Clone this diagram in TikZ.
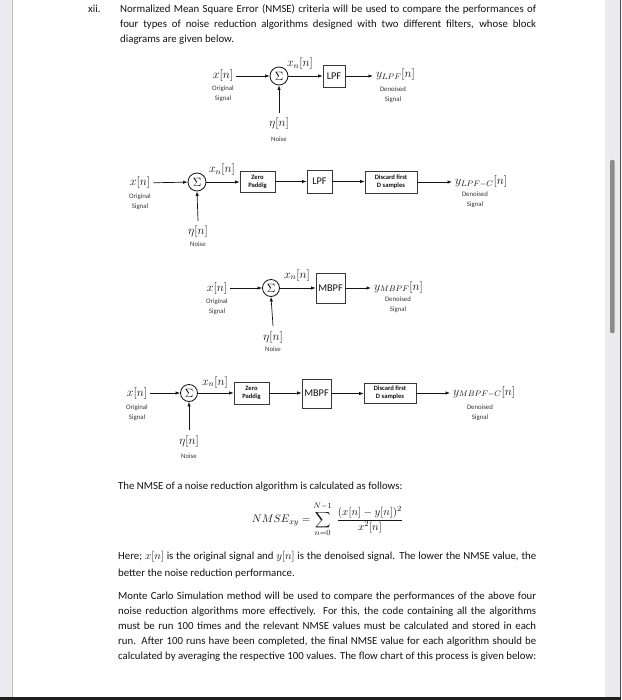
\documentclass[tikz,border=0pt]{standalone}
\usepackage{amsmath}
\usepackage[no-math]{fontspec}
\setmainfont{Carlito}
\usetikzlibrary{arrows.meta}
\definecolor{ink}{HTML}{141414}
\definecolor{sidegray}{HTML}{ECECF0}
\definecolor{thumbgray}{HTML}{8C8C8C}
\newcommand\lblfont{\fontsize{6.8}{10}\selectfont}
\newcommand\boldlblfont{\fontsize{6.6}{8}\selectfont\bfseries}
\newcommand\boxfont{\fontsize{10.3}{11}\selectfont}
\newcommand\mathsz{\fontsize{12}{14}\selectfont}
\newcommand\parafont{\fontsize{10.8}{15}\selectfont}
\newcommand\jl[1]{\makebox[416pt][s]{#1}}
\newcommand\jm[1]{\makebox[418pt][s]{#1}}
\begin{document}
\begin{tikzpicture}[x=1pt,y=-1pt,
  sig/.style={-{Latex[length=4.5pt,width=3.4pt]}, line width=0.7pt, draw=ink},
  blk/.style={draw=ink!85, line width=0.8pt, inner sep=0pt, align=center, text=ink},
  sumnode/.style={circle, draw=ink, line width=0.8pt, minimum size=17pt, inner sep=0pt, font=\fontsize{13}{13}\selectfont},
  mlabel/.style={inner xsep=3pt, inner ysep=1pt, text=ink, font=\mathsz},
  sublabel/.style={inner sep=0pt, align=center, text=ink!85, font=\lblfont},
  para/.style={inner sep=0pt, align=left, text=ink, font=\parafont, anchor=north west}]
\useasboundingbox (0,0) rectangle (621,700);
% screen background
\fill[sidegray] (0,0) rectangle (621,700);
\fill[white] (12,0) rectangle (605,697);
\draw[black!25, line width=0.6pt] (12,0) -- (12,697);
\fill[thumbgray, rounded corners=1pt] (610,160) rectangle (614.5,333);
\fill[black!70] (619.5,0) rectangle (621,700);
\fill[black!88] (0,697) rectangle (621,700);

% ---------- heading text ----------
\node[para] (num) at (88,1.5) {\strut xii.};
\node[para] (p1) at (120,1.5) {\strut\jl{Normalized Mean Square Error (NMSE) criteria will be used to compare the performances of}\\
\jl{four types of noise reduction algorithms designed with two different filters, whose block}\\
diagrams are given below.};

% ---------- diagram 1 ----------
\node[mlabel] (x1) at (223,76) {$x[n]$};
\node[sublabel] (o1) at (223,94) {Original\\Signal};
\node[sumnode, minimum size=18pt] (s1) at (279,76) {$\Sigma$};
\node[mlabel] (xn1) at (300,64) {$x_n[n]$};
\node[blk, minimum width=22pt, minimum height=22pt, font=\boxfont] (f1) at (334,76) {LPF};
\node[mlabel, anchor=west] (y1) at (373,75) {$y_{LPF}[n]$};
\node[sublabel] (d1) at (393,95) {Denoised\\Signal};
\node[mlabel] (e1) at (279,124) {$\eta[n]$};
\node[sublabel] (n1) at (279,139) {Noise};
\draw[sig] (x1) -- (s1);
\draw[sig] (s1) -- (f1);
\draw[sig] (f1.east) -- (f1.east -| y1.west);
\draw[sig] ([yshift=4pt]e1.north) -- (s1.south);

% ---------- diagram 2 ----------
\node[mlabel] (x2) at (140,183) {$x[n]$};
\node[sublabel] (o2) at (140,201.5) {Original\\Signal};
\node[sumnode, minimum size=18pt] (s2) at (197,182) {$\Sigma$};
\node[mlabel] (xn2) at (222,170) {$x_n[n]$};
\node[blk, minimum width=35pt, minimum height=21pt, font=\boldlblfont] (z2) at (257.5,181.5) {Zero\\Paddig};
\node[blk, minimum width=25pt, minimum height=23pt, font=\boxfont] (f2) at (319.5,181.5) {LPF};
\node[blk, minimum width=52pt, minimum height=22pt, font=\boldlblfont] (c2) at (391,182) {Discard first\\D samples};
\node[mlabel, anchor=west] (y2) at (452,182) {$y_{LPF-C}[n]$};
\node[sublabel] (d2) at (475,199.5) {Denoised\\Signal};
\node[mlabel] (e2) at (198,232) {$\eta[n]$};
\node[sublabel] (n2) at (198,244) {Noise};
\draw[sig] (x2) -- (s2);
\draw[sig] (s2) -- (s2 -| z2.west);
\draw[sig] (z2.east) -- (z2.east -| f2.west);
\draw[sig] (f2.east) -- (f2.east -| c2.west);
\draw[sig] (c2.east) -- (c2.east -| y2.west);
\draw[sig] ([yshift=4pt]e2.north) -- (s2.south);

% ---------- diagram 3 ----------
\node[mlabel] (x3) at (217,288) {$x[n]$};
\node[sublabel] (o3) at (217,307) {Original\\Signal};
\node[sumnode] (s3) at (271,288) {$\Sigma$};
\node[mlabel] (xn3) at (297,275) {$x_n[n]$};
\node[blk, minimum width=29pt, minimum height=30pt, font=\boxfont] (f3) at (330.5,288) {MBPF};
\node[mlabel, anchor=west] (y3) at (371,287) {$y_{MBPF}[n]$};
\node[sublabel] (d3) at (398,305) {Denoised\\Signal};
\node[mlabel] (e3) at (273,337) {$\eta[n]$};
\node[sublabel] (n3) at (273,349) {Noise};
\draw[sig] (x3) -- (s3);
\draw[sig] (s3) -- (f3);
\draw[sig] (f3.east) -- (f3.east -| y3.west);
\draw[sig] ([yshift=4pt]e3.north) -- (s3.south);

% ---------- diagram 4 ----------
\node[mlabel] (x4) at (137,393) {$x[n]$};
\node[sublabel] (o4) at (137,412.5) {Original\\Signal};
\node[sumnode] (s4) at (189,393) {$\Sigma$};
\node[mlabel] (xn4) at (215,382) {$x_n[n]$};
\node[blk, minimum width=35pt, minimum height=22pt, font=\boldlblfont] (z4) at (251.5,393) {Zero\\Paddig};
\node[blk, minimum width=29pt, minimum height=29pt, font=\boxfont] (f4) at (316.5,393.5) {MBPF};
\node[blk, minimum width=52pt, minimum height=20pt, font=\boldlblfont] (c4) at (390,393) {Discard first\\D samples};
\node[mlabel, anchor=west] (y4) at (450,392) {$y_{MBPF-C}[n]$};
\node[sublabel] (d4) at (480,412.5) {Denoised\\Signal};
\node[mlabel] (e4) at (189,441) {$\eta[n]$};
\node[sublabel] (n4) at (189,456) {Noise};
\draw[sig] (x4) -- (s4);
\draw[sig] (s4) -- (s4 -| z4.west);
\draw[sig] (z4.east) -- (z4.east -| f4.west);
\draw[sig] (f4.east) -- (f4.east -| c4.west);
\draw[sig] (c4.east) -- (c4.east -| y4.west);
\draw[sig] ([yshift=4pt]e4.north) -- (s4.south);

% ---------- NMSE text ----------
\node[para] (p2) at (118,478.5) {\strut The NMSE of a noise reduction algorithm is calculated as follows:};
\node[inner sep=0pt, text=ink, font=\fontsize{10.95}{12}\selectfont] (eq) at (327.5,519.5)
  {$\displaystyle NMSE_{xy}=\sum_{n=0}^{N-1}\;\frac{(x[n]-y[n])^2}{x^2[n]}$};
\node[para, font=\fontsize{10.8}{17}\selectfont] (p3) at (118,547) {\strut\jm{Here; $x[n]$ is the original signal and $y[n]$ is the denoised signal. The lower the NMSE value, the}\\
better the noise reduction performance.};
\node[para] (p4) at (118,588.5) {\strut\jm{Monte Carlo Simulation method will be used to compare the performances of the above four}\\
\jm{noise reduction algorithms more effectively. For this, the code containing all the algorithms}\\
\jm{must be run 100 times and the relevant NMSE values must be calculated and stored in each}\\
\jm{run. After 100 runs have been completed, the final NMSE value for each algorithm should be}\\
\jm{calculated by averaging the respective 100 values. The flow chart of this process is given below:}};
\end{tikzpicture}
\end{document}
